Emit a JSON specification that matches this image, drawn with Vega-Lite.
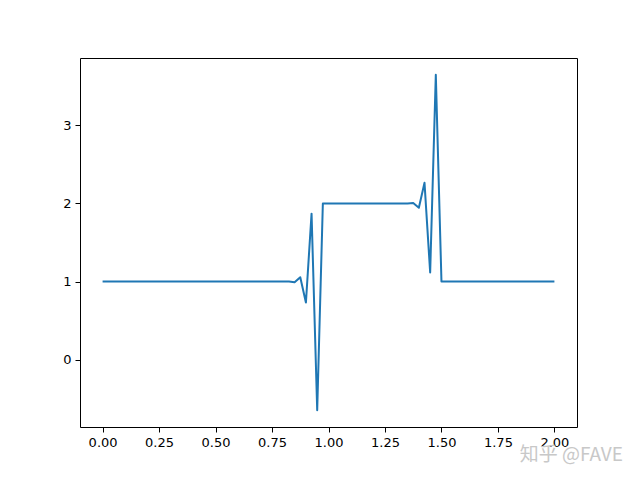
{
  "$schema": "https://vega.github.io/schema/vega-lite/v6.json",
  "autosize": {"type": "none"},
  "padding": {"left": 80, "top": 58, "right": 63, "bottom": 53},
  "width": 497,
  "height": 369,
  "background": "white",
  "title": {"text": "知乎 @FAVE", "orient": "bottom", "anchor": "end", "color": "#c8c8c8", "font": "Noto Sans CJK SC", "fontSize": 19, "fontWeight": "normal", "dx": 46, "offset": -3},
  "config": {
    "view": {"stroke": "black", "strokeWidth": 1},
    "axis": {"labelFont": "DejaVu Sans", "labelFontSize": 13, "labelColor": "black", "domain": false, "grid": false, "tickColor": "black", "tickSize": 5, "tickWidth": 1, "labelPadding": 4, "title": null}
  },
  "data": {"values": [
    {"x": 0, "y": 1}, {"x": 0.025, "y": 1}, {"x": 0.05, "y": 1}, {"x": 0.075, "y": 1}, {"x": 0.1, "y": 1},
    {"x": 0.125, "y": 1}, {"x": 0.15, "y": 1}, {"x": 0.175, "y": 1}, {"x": 0.2, "y": 1}, {"x": 0.225, "y": 1},
    {"x": 0.25, "y": 1}, {"x": 0.275, "y": 1}, {"x": 0.3, "y": 1}, {"x": 0.325, "y": 1}, {"x": 0.35, "y": 1},
    {"x": 0.375, "y": 1}, {"x": 0.4, "y": 1}, {"x": 0.425, "y": 1}, {"x": 0.45, "y": 1}, {"x": 0.475, "y": 1},
    {"x": 0.5, "y": 1}, {"x": 0.525, "y": 1}, {"x": 0.55, "y": 1}, {"x": 0.575, "y": 1}, {"x": 0.6, "y": 1},
    {"x": 0.625, "y": 1}, {"x": 0.65, "y": 1}, {"x": 0.675, "y": 1}, {"x": 0.7, "y": 1}, {"x": 0.725, "y": 1},
    {"x": 0.75, "y": 1}, {"x": 0.775, "y": 1}, {"x": 0.8, "y": 1}, {"x": 0.825, "y": 1}, {"x": 0.85, "y": 0.99},
    {"x": 0.875, "y": 1.055}, {"x": 0.9, "y": 0.73}, {"x": 0.925, "y": 1.87}, {"x": 0.95, "y": -0.65}, {"x": 0.975, "y": 2.0},
    {"x": 1.0, "y": 2}, {"x": 1.025, "y": 2}, {"x": 1.05, "y": 2}, {"x": 1.075, "y": 2}, {"x": 1.1, "y": 2},
    {"x": 1.125, "y": 2}, {"x": 1.15, "y": 2}, {"x": 1.175, "y": 2}, {"x": 1.2, "y": 2}, {"x": 1.225, "y": 2},
    {"x": 1.25, "y": 2}, {"x": 1.275, "y": 2}, {"x": 1.3, "y": 2}, {"x": 1.325, "y": 2}, {"x": 1.35, "y": 2},
    {"x": 1.375, "y": 2.005}, {"x": 1.4, "y": 1.945}, {"x": 1.425, "y": 2.265}, {"x": 1.45, "y": 1.115}, {"x": 1.475, "y": 3.65},
    {"x": 1.5, "y": 1.0}, {"x": 1.525, "y": 1}, {"x": 1.55, "y": 1}, {"x": 1.575, "y": 1}, {"x": 1.6, "y": 1},
    {"x": 1.625, "y": 1}, {"x": 1.65, "y": 1}, {"x": 1.675, "y": 1}, {"x": 1.7, "y": 1}, {"x": 1.725, "y": 1},
    {"x": 1.75, "y": 1}, {"x": 1.775, "y": 1}, {"x": 1.8, "y": 1}, {"x": 1.825, "y": 1}, {"x": 1.85, "y": 1},
    {"x": 1.875, "y": 1}, {"x": 1.9, "y": 1}, {"x": 1.925, "y": 1}, {"x": 1.95, "y": 1}, {"x": 1.975, "y": 1},
    {"x": 2.0, "y": 1}
  ]},
  "mark": {"type": "line", "color": "#1f77b4", "strokeWidth": 2, "strokeJoin": "round", "strokeCap": "butt"},
  "encoding": {
    "x": {"field": "x", "type": "quantitative", "scale": {"domain": [-0.1, 2.1], "nice": false, "zero": false},
          "axis": {"values": [0, 0.25, 0.5, 0.75, 1, 1.25, 1.5, 1.75, 2], "format": ".2f"}},
    "y": {"field": "y", "type": "quantitative", "scale": {"domain": [-0.865, 3.865], "nice": false, "zero": false},
          "axis": {"values": [0, 1, 2, 3], "format": "d"}}
  }
}
